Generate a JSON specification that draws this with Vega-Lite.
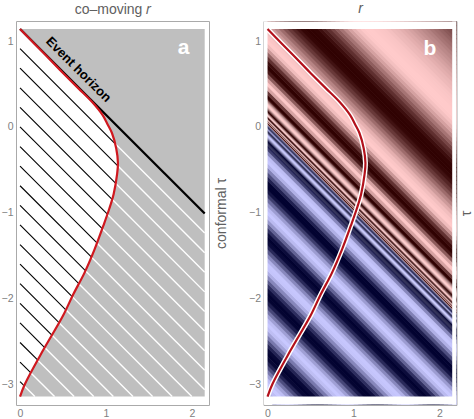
{
  "$schema": "https://vega.github.io/schema/vega-lite/v6.json",
  "padding": 0,
  "background": "white",
  "spacing": 18.5,
  "resolve": {"scale": {"x": "independent", "y": "independent", "color": "independent"}},
  "config": {
    "view": {"stroke": "#aaaaaa", "strokeWidth": 1},
    "font": "Liberation Sans",
    "axis": {
      "labelFont": "Liberation Sans", "labelFontSize": 10.5, "labelColor": "#808080",
      "titleFont": "Liberation Sans", "titleFontSize": 14, "titleFontWeight": "normal", "titleColor": "#606060",
      "grid": false, "domain": false, "ticks": false, "minExtent": 0
    }
  },
  "datasets": {
    "curve": [
      {"i": 0, "r": 0, "t": -3.1416},
      {"i": 1, "r": 0.06, "t": -2.99},
      {"i": 2, "r": 0.27, "t": -2.6},
      {"i": 3, "r": 0.5, "t": -2.2},
      {"i": 4, "r": 0.62, "t": -1.95},
      {"i": 5, "r": 0.75, "t": -1.7},
      {"i": 6, "r": 0.87, "t": -1.42},
      {"i": 7, "r": 0.97, "t": -1.15},
      {"i": 8, "r": 1.04, "t": -0.95},
      {"i": 9, "r": 1.09, "t": -0.78},
      {"i": 10, "r": 1.13, "t": -0.55},
      {"i": 11, "r": 1.14, "t": -0.42},
      {"i": 12, "r": 1.12, "t": -0.25},
      {"i": 13, "r": 1.07, "t": -0.07},
      {"i": 14, "r": 1.02, "t": 0.03},
      {"i": 15, "r": 0.96, "t": 0.14},
      {"i": 16, "r": 0.84, "t": 0.29},
      {"i": 17, "r": 0.68, "t": 0.45},
      {"i": 18, "r": 0.5, "t": 0.63},
      {"i": 19, "r": 0.3, "t": 0.835},
      {"i": 20, "r": 0, "t": 1.1416}
    ],
    "hatch": [
      {"s": "in", "r": 0, "t": 0.9133, "r2": 1.103, "t2": -0.19},
      {"s": "out", "r": 1.103, "t": -0.19, "r2": 2.15, "t2": -1.2367},
      {"s": "in", "r": 0, "t": 0.6849, "r2": 1.1375, "t2": -0.4526},
      {"s": "out", "r": 1.1375, "t": -0.4526, "r2": 2.15, "t2": -1.4651},
      {"s": "in", "r": 0, "t": 0.4566, "r2": 1.1117, "t2": -0.6551},
      {"s": "out", "r": 1.1117, "t": -0.6551, "r2": 2.15, "t2": -1.6934},
      {"s": "in", "r": 0, "t": 0.2283, "r2": 1.0714, "t2": -0.8431},
      {"s": "out", "r": 1.0714, "t": -0.8431, "r2": 2.15, "t2": -1.9217},
      {"s": "in", "r": 0, "t": 0, "r2": 1.0167, "t2": -1.0167},
      {"s": "out", "r": 1.0167, "t": -1.0167, "r2": 2.15, "t2": -2.15},
      {"s": "in", "r": 0, "t": -0.2283, "r2": 0.957, "t2": -1.1853},
      {"s": "out", "r": 0.957, "t": -1.1853, "r2": 2.15, "t2": -2.3783},
      {"s": "in", "r": 0, "t": -0.4566, "r2": 0.8952, "t2": -1.3518},
      {"s": "out", "r": 0.8952, "t": -1.3518, "r2": 2.15, "t2": -2.6066},
      {"s": "in", "r": 0, "t": -0.6849, "r2": 0.8295, "t2": -1.5144},
      {"s": "out", "r": 0.8295, "t": -1.5144, "r2": 2.15, "t2": -2.8349},
      {"s": "in", "r": 0, "t": -0.9133, "r2": 0.761, "t2": -1.6743},
      {"s": "out", "r": 0.761, "t": -1.6743, "r2": 2.15, "t2": -3.0633},
      {"s": "in", "r": 0, "t": -1.1416, "r2": 0.6845, "t2": -1.8261},
      {"s": "out", "r": 0.6845, "t": -1.8261, "r2": 2.0, "t2": -3.1416},
      {"s": "in", "r": 0, "t": -1.3699, "r2": 0.6071, "t2": -1.977},
      {"s": "out", "r": 0.6071, "t": -1.977, "r2": 1.7717, "t2": -3.1416},
      {"s": "in", "r": 0, "t": -1.5982, "r2": 0.533, "t2": -2.1312},
      {"s": "out", "r": 0.533, "t": -2.1312, "r2": 1.5434, "t2": -3.1416},
      {"s": "in", "r": 0, "t": -1.8266, "r2": 0.4538, "t2": -2.2804},
      {"s": "out", "r": 0.4538, "t": -2.2804, "r2": 1.315, "t2": -3.1416},
      {"s": "in", "r": 0, "t": -2.0549, "r2": 0.3704, "t2": -2.4253},
      {"s": "out", "r": 0.3704, "t": -2.4253, "r2": 1.0867, "t2": -3.1416},
      {"s": "in", "r": 0, "t": -2.2832, "r2": 0.2871, "t2": -2.5703},
      {"s": "out", "r": 0.2871, "t": -2.5703, "r2": 0.8584, "t2": -3.1416},
      {"s": "in", "r": 0, "t": -2.5115, "r2": 0.2065, "t2": -2.718},
      {"s": "out", "r": 0.2065, "t": -2.718, "r2": 0.6301, "t2": -3.1416},
      {"s": "in", "r": 0, "t": -2.7398, "r2": 0.1266, "t2": -2.8664},
      {"s": "out", "r": 0.1266, "t": -2.8664, "r2": 0.4018, "t2": -3.1416},
      {"s": "in", "r": 0, "t": -2.9682, "r2": 0.0492, "t2": -3.0174},
      {"s": "out", "r": 0.0492, "t": -3.0174, "r2": 0.1734, "t2": -3.1416}
    ],
    "stripes": [
      {"g": "b", "t": -3.15, "t2": -5.35, "v": -0.75},
      {"g": "b", "t": -3.1, "t2": -5.3, "v": -0.88},
      {"g": "b", "t": -3.05, "t2": -5.25, "v": -0.95},
      {"g": "b", "t": -3.0, "t2": -5.2, "v": -1},
      {"g": "b", "t": -2.95, "t2": -5.15, "v": -0.95},
      {"g": "b", "t": -2.9, "t2": -5.1, "v": -0.81},
      {"g": "b", "t": -2.85, "t2": -5.05, "v": -0.61},
      {"g": "b", "t": -2.8, "t2": -5.0, "v": -0.39},
      {"g": "b", "t": -2.75, "t2": -4.95, "v": -0.19},
      {"g": "b", "t": -2.7, "t2": -4.9, "v": -0.05},
      {"g": "b", "t": -2.65, "t2": -4.85, "v": -0.02},
      {"g": "b", "t": -2.6, "t2": -4.8, "v": -0.05},
      {"g": "b", "t": -2.55, "t2": -4.75, "v": -0.19},
      {"g": "b", "t": -2.5, "t2": -4.7, "v": -0.39},
      {"g": "b", "t": -2.45, "t2": -4.65, "v": -0.61},
      {"g": "b", "t": -2.4, "t2": -4.6, "v": -0.81},
      {"g": "b", "t": -2.35, "t2": -4.55, "v": -0.95},
      {"g": "b", "t": -2.3, "t2": -4.5, "v": -1},
      {"g": "b", "t": -2.25, "t2": -4.45, "v": -0.95},
      {"g": "b", "t": -2.2, "t2": -4.4, "v": -0.8},
      {"g": "b", "t": -2.15, "t2": -4.35, "v": -0.59},
      {"g": "b", "t": -2.1, "t2": -4.3, "v": -0.36},
      {"g": "b", "t": -2.05, "t2": -4.25, "v": -0.16},
      {"g": "b", "t": -2.0, "t2": -4.2, "v": -0.03},
      {"g": "b", "t": -1.95, "t2": -4.15, "v": -0.02},
      {"g": "b", "t": -1.9, "t2": -4.1, "v": -0.08},
      {"g": "b", "t": -1.85, "t2": -4.05, "v": -0.24},
      {"g": "b", "t": -1.8, "t2": -4.0, "v": -0.45},
      {"g": "b", "t": -1.75, "t2": -3.95, "v": -0.68},
      {"g": "b", "t": -1.7, "t2": -3.9, "v": -0.87},
      {"g": "b", "t": -1.65, "t2": -3.85, "v": -0.98},
      {"g": "b", "t": -1.6, "t2": -3.8, "v": -0.99},
      {"g": "b", "t": -1.55, "t2": -3.75, "v": -0.89},
      {"g": "b", "t": -1.5, "t2": -3.7, "v": -0.69},
      {"g": "b", "t": -1.45, "t2": -3.65, "v": -0.45},
      {"g": "b", "t": -1.4, "t2": -3.6, "v": -0.22},
      {"g": "b", "t": -1.35, "t2": -3.55, "v": -0.06},
      {"g": "b", "t": -1.3, "t2": -3.5, "v": -0.02},
      {"g": "b", "t": -1.25, "t2": -3.45, "v": -0.07},
      {"g": "b", "t": -1.2, "t2": -3.4, "v": -0.25},
      {"g": "b", "t": -1.15, "t2": -3.35, "v": -0.5},
      {"g": "b", "t": -1.1, "t2": -3.3, "v": -0.75},
      {"g": "b", "t": -1.05, "t2": -3.25, "v": -0.93},
      {"g": "b", "t": -1.0, "t2": -3.2, "v": -1},
      {"g": "b", "t": -0.95, "t2": -3.15, "v": -0.94},
      {"g": "b", "t": -0.9, "t2": -3.1, "v": -0.78},
      {"g": "b", "t": -0.85, "t2": -3.05, "v": -0.55},
      {"g": "b", "t": -0.8, "t2": -3.0, "v": -0.31},
      {"g": "b", "t": -0.75, "t2": -2.95, "v": -0.11},
      {"g": "b", "t": -0.7, "t2": -2.9, "v": -0.02},
      {"g": "b", "t": -0.65, "t2": -2.85, "v": -0.02},
      {"g": "b", "t": -0.6, "t2": -2.8, "v": -0.17},
      {"g": "b", "t": -0.55, "t2": -2.75, "v": -0.4},
      {"g": "b", "t": -0.5, "t2": -2.7, "v": -0.65},
      {"g": "b", "t": -0.45, "t2": -2.65, "v": -0.88},
      {"g": "b", "t": -0.4, "t2": -2.6, "v": -0.99},
      {"g": "b", "t": -0.35, "t2": -2.55, "v": -0.95},
      {"g": "b", "t": -0.3, "t2": -2.5, "v": -0.68},
      {"g": "b", "t": -0.25, "t2": -2.45, "v": -0.32},
      {"g": "f", "t": -0.24, "t2": -2.44, "v": -0.25},
      {"g": "f", "t": -0.23, "t2": -2.43, "v": -0.19},
      {"g": "f", "t": -0.22, "t2": -2.42, "v": -0.13},
      {"g": "f", "t": -0.21, "t2": -2.41, "v": -0.09},
      {"g": "f", "t": -0.2, "t2": -2.4, "v": -0.05},
      {"g": "f", "t": -0.19, "t2": -2.39, "v": -0.03},
      {"g": "f", "t": -0.18, "t2": -2.38, "v": -0.02},
      {"g": "f", "t": -0.17, "t2": -2.37, "v": -0.02},
      {"g": "f", "t": -0.16, "t2": -2.36, "v": -0.05},
      {"g": "f", "t": -0.15, "t2": -2.35, "v": -0.19},
      {"g": "f", "t": -0.14, "t2": -2.34, "v": -0.39},
      {"g": "f", "t": -0.13, "t2": -2.33, "v": -0.61},
      {"g": "f", "t": -0.12, "t2": -2.32, "v": -0.81},
      {"g": "f", "t": -0.11, "t2": -2.31, "v": -0.95},
      {"g": "f", "t": -0.1, "t2": -2.3, "v": -1},
      {"g": "f", "t": -0.09, "t2": -2.29, "v": -0.88},
      {"g": "f", "t": -0.08, "t2": -2.28, "v": -0.59},
      {"g": "f", "t": -0.07, "t2": -2.27, "v": -0.25},
      {"g": "f", "t": -0.06, "t2": -2.26, "v": -0.03},
      {"g": "f", "t": -0.05, "t2": -2.25, "v": -0.08},
      {"g": "f", "t": -0.04, "t2": -2.24, "v": -0.52},
      {"g": "f", "t": -0.03, "t2": -2.23, "v": -0.8},
      {"g": "f", "t": -0.02, "t2": -2.22, "v": -0.6},
      {"g": "f", "t": -0.01, "t2": -2.21, "v": -0.2},
      {"g": "f", "t": 0.0, "t2": -2.2, "v": -0.02},
      {"g": "f", "t": 0.01, "t2": -2.19, "v": -0.25},
      {"g": "f", "t": 0.02, "t2": -2.18, "v": -0.5},
      {"g": "f", "t": 0.03, "t2": -2.17, "v": 0.5},
      {"g": "f", "t": 0.04, "t2": -2.16, "v": 0.03},
      {"g": "f", "t": 0.05, "t2": -2.15, "v": 0.75},
      {"g": "f", "t": 0.06, "t2": -2.14, "v": 0.43},
      {"g": "f", "t": 0.07, "t2": -2.13, "v": 0.25},
      {"g": "f", "t": 0.08, "t2": -2.12, "v": 1},
      {"g": "f", "t": 0.09, "t2": -2.11, "v": 0.57},
      {"g": "f", "t": 0.1, "t2": -2.1, "v": 0.02},
      {"g": "f", "t": 0.11, "t2": -2.09, "v": 0.14},
      {"g": "f", "t": 0.12, "t2": -2.08, "v": 0.57},
      {"g": "f", "t": 0.13, "t2": -2.07, "v": 0.94},
      {"g": "f", "t": 0.14, "t2": -2.06, "v": 0.97},
      {"g": "f", "t": 0.15, "t2": -2.05, "v": 0.75},
      {"g": "f", "t": 0.16, "t2": -2.04, "v": 0.41},
      {"g": "f", "t": 0.17, "t2": -2.03, "v": 0.12},
      {"g": "f", "t": 0.18, "t2": -2.02, "v": 0.02},
      {"g": "f", "t": 0.19, "t2": -2.01, "v": 0.05},
      {"g": "f", "t": 0.2, "t2": -2.0, "v": 0.19},
      {"g": "f", "t": 0.21, "t2": -1.99, "v": 0.39},
      {"g": "f", "t": 0.22, "t2": -1.98, "v": 0.61},
      {"g": "f", "t": 0.23, "t2": -1.97, "v": 0.81},
      {"g": "f", "t": 0.24, "t2": -1.96, "v": 0.95},
      {"g": "f", "t": 0.25, "t2": -1.95, "v": 1},
      {"g": "f", "t": 0.26, "t2": -1.94, "v": 0.98},
      {"g": "f", "t": 0.27, "t2": -1.93, "v": 0.9},
      {"g": "f", "t": 0.28, "t2": -1.92, "v": 0.79},
      {"g": "f", "t": 0.29, "t2": -1.91, "v": 0.65},
      {"g": "f", "t": 0.3, "t2": -1.9, "v": 0.5},
      {"g": "f", "t": 0.31, "t2": -1.89, "v": 0.35},
      {"g": "f", "t": 0.32, "t2": -1.88, "v": 0.21},
      {"g": "f", "t": 0.33, "t2": -1.87, "v": 0.1},
      {"g": "f", "t": 0.34, "t2": -1.86, "v": 0.02},
      {"g": "b", "t": 0.35, "t2": -1.85, "v": 0.02},
      {"g": "b", "t": 0.4, "t2": -1.8, "v": 0.28},
      {"g": "b", "t": 0.45, "t2": -1.75, "v": 0.81},
      {"g": "b", "t": 0.5, "t2": -1.7, "v": 0.99},
      {"g": "b", "t": 0.55, "t2": -1.65, "v": 0.81},
      {"g": "b", "t": 0.6, "t2": -1.6, "v": 0.46},
      {"g": "b", "t": 0.65, "t2": -1.55, "v": 0.13},
      {"g": "b", "t": 0.7, "t2": -1.5, "v": 0.02},
      {"g": "b", "t": 0.75, "t2": -1.45, "v": 0.07},
      {"g": "b", "t": 0.8, "t2": -1.4, "v": 0.25},
      {"g": "b", "t": 0.85, "t2": -1.35, "v": 0.5},
      {"g": "b", "t": 0.9, "t2": -1.3, "v": 0.75},
      {"g": "b", "t": 0.95, "t2": -1.25, "v": 0.93},
      {"g": "b", "t": 1.0, "t2": -1.2, "v": 1},
      {"g": "b", "t": 1.05, "t2": -1.15, "v": 0.98},
      {"g": "b", "t": 1.1, "t2": -1.1, "v": 0.94},
      {"g": "b", "t": 1.15, "t2": -1.05, "v": 0.87},
      {"g": "b", "t": 1.2, "t2": -1.0, "v": 0.77},
      {"g": "b", "t": 1.25, "t2": -0.95, "v": 0.66},
      {"g": "b", "t": 1.3, "t2": -0.9, "v": 0.54},
      {"g": "b", "t": 1.35, "t2": -0.85, "v": 0.41},
      {"g": "b", "t": 1.4, "t2": -0.8, "v": 0.29},
      {"g": "b", "t": 1.45, "t2": -0.75, "v": 0.19},
      {"g": "b", "t": 1.5, "t2": -0.7, "v": 0.1},
      {"g": "b", "t": 1.55, "t2": -0.65, "v": 0.04},
      {"g": "b", "t": 1.6, "t2": -0.6, "v": 0.02},
      {"g": "b", "t": 1.65, "t2": -0.55, "v": 0.02},
      {"g": "b", "t": 1.7, "t2": -0.5, "v": 0.03},
      {"g": "b", "t": 1.75, "t2": -0.45, "v": 0.08},
      {"g": "b", "t": 1.8, "t2": -0.4, "v": 0.15},
      {"g": "b", "t": 1.85, "t2": -0.35, "v": 0.24},
      {"g": "b", "t": 1.9, "t2": -0.3, "v": 0.35},
      {"g": "b", "t": 1.95, "t2": -0.25, "v": 0.47},
      {"g": "b", "t": 2.0, "t2": -0.2, "v": 0.58},
      {"g": "b", "t": 2.05, "t2": -0.15, "v": 0.69},
      {"g": "b", "t": 2.1, "t2": -0.1, "v": 0.8},
      {"g": "b", "t": 2.15, "t2": -0.05, "v": 0.88},
      {"g": "b", "t": 2.2, "t2": 0.0, "v": 0.95},
      {"g": "b", "t": 2.25, "t2": 0.05, "v": 0.99},
      {"g": "b", "t": 2.3, "t2": 0.1, "v": 1},
      {"g": "b", "t": 2.35, "t2": 0.15, "v": 1},
      {"g": "b", "t": 2.4, "t2": 0.2, "v": 0.99},
      {"g": "b", "t": 2.45, "t2": 0.25, "v": 0.98},
      {"g": "b", "t": 2.5, "t2": 0.3, "v": 0.97},
      {"g": "b", "t": 2.55, "t2": 0.35, "v": 0.95},
      {"g": "b", "t": 2.6, "t2": 0.4, "v": 0.92},
      {"g": "b", "t": 2.65, "t2": 0.45, "v": 0.9},
      {"g": "b", "t": 2.7, "t2": 0.5, "v": 0.87},
      {"g": "b", "t": 2.75, "t2": 0.55, "v": 0.84},
      {"g": "b", "t": 2.8, "t2": 0.6, "v": 0.8},
      {"g": "b", "t": 2.85, "t2": 0.65, "v": 0.76},
      {"g": "b", "t": 2.9, "t2": 0.7, "v": 0.72},
      {"g": "b", "t": 2.95, "t2": 0.75, "v": 0.68},
      {"g": "b", "t": 3.0, "t2": 0.8, "v": 0.64},
      {"g": "b", "t": 3.05, "t2": 0.85, "v": 0.59},
      {"g": "b", "t": 3.1, "t2": 0.9, "v": 0.55},
      {"g": "b", "t": 3.15, "t2": 0.95, "v": 0.5},
      {"g": "b", "t": 3.2, "t2": 1.0, "v": 0.45},
      {"g": "b", "t": 3.25, "t2": 1.05, "v": 0.41},
      {"g": "b", "t": 3.3, "t2": 1.1, "v": 0.36},
      {"g": "b", "t": 3.35, "t2": 1.15, "v": 0.32},
      {"g": "b", "t": 3.4, "t2": 1.2, "v": 0.28}
    ]
  },
  "hconcat": [
    {
      "width": 193,
      "height": 384,
      "layer": [
        {
          "data": {"name": "curve"},
          "mark": {"type": "area", "orient": "horizontal", "interpolate": "catmull-rom", "color": "#bfbfbf"},
          "encoding": {
            "x": {"field": "r", "type": "quantitative", "scale": {"domain": [-0.047, 2.2], "nice": false, "zero": false},
                  "axis": {"orient": "bottom", "values": [0, 1, 2], "labelPadding": 3, "title": null}},
            "x2": {"datum": 2.15},
            "y": {"field": "t", "type": "quantitative", "scale": {"domain": [-3.24, 1.235], "nice": false, "zero": false},
                  "axis": {"orient": "left", "values": [-3, -2, -1, 0, 1], "labelPadding": 3, "title": null}}
          }
        },
        {
          "data": {"name": "hatch"},
          "transform": [{"filter": "datum.s === 'in'"}],
          "mark": {"type": "rule", "color": "black", "strokeWidth": 1.1},
          "encoding": {
            "x": {"field": "r", "type": "quantitative", "axis": null},
            "y": {"field": "t", "type": "quantitative", "axis": null},
            "x2": {"field": "r2"}, "y2": {"field": "t2"}
          }
        },
        {
          "data": {"name": "hatch"},
          "transform": [{"filter": "datum.s === 'out'"}],
          "mark": {"type": "rule", "color": "white", "strokeWidth": 1.4},
          "encoding": {
            "x": {"field": "r", "type": "quantitative", "axis": null},
            "y": {"field": "t", "type": "quantitative", "axis": null},
            "x2": {"field": "r2"}, "y2": {"field": "t2"}
          }
        },
        {
          "data": {"values": [{"r": 0, "t": 1.1416, "r2": 2.15, "t2": -1.0084}]},
          "mark": {"type": "rule", "color": "black", "strokeWidth": 2.3},
          "encoding": {
            "x": {"field": "r", "type": "quantitative", "axis": null},
            "y": {"field": "t", "type": "quantitative", "axis": null},
            "x2": {"field": "r2"}, "y2": {"field": "t2"}
          }
        },
        {
          "data": {"name": "curve"},
          "mark": {"type": "line", "interpolate": "catmull-rom", "color": "#d0181f", "strokeWidth": 2.2},
          "encoding": {
            "x": {"field": "r", "type": "quantitative", "axis": null},
            "y": {"field": "t", "type": "quantitative", "axis": null},
            "order": {"field": "i"}
          }
        },
        {
          "data": {"values": [{"r": 0.68, "t": 0.668, "txt": "Event horizon"}]},
          "mark": {"type": "text", "angle": 45, "fontWeight": "bold", "fontSize": 13, "color": "black", "align": "center", "baseline": "middle"},
          "encoding": {
            "x": {"field": "r", "type": "quantitative", "axis": null},
            "y": {"field": "t", "type": "quantitative", "axis": null},
            "text": {"field": "txt"}
          }
        },
        {
          "data": {"values": [{"r": 1.905, "t": 0.856, "txt": "a"}]},
          "mark": {"type": "text", "fontWeight": "bold", "fontSize": 21, "color": "white", "align": "center", "baseline": "alphabetic"},
          "encoding": {
            "x": {"field": "r", "type": "quantitative",
                  "axis": {"orient": "top", "labels": false, "title": "co–moving 𝑟", "titlePadding": 5}},
            "y": {"field": "t", "type": "quantitative",
                  "axis": {"orient": "right", "labels": false, "title": "conformal τ", "titleAngle": 270, "titleBaseline": "top", "titlePadding": 5.5}},
            "text": {"field": "txt"}
          }
        }
      ]
    },
    {
      "width": 193,
      "height": 384,
      "layer": [
        {
          "data": {"name": "stripes"},
          "transform": [{"filter": "datum.g === 'b'"}],
          "mark": {"type": "rule", "strokeWidth": 3.6, "strokeCap": "square", "clip": true},
          "encoding": {
            "x": {"datum": 0, "axis": null},
            "x2": {"datum": 2.2},
            "y": {"field": "t", "type": "quantitative", "axis": null},
            "y2": {"field": "t2"},
            "color": {"field": "v", "type": "quantitative", "legend": null,
                      "scale": {"domain": [-1, -0.01, 0.01, 1], "range": ["#c8c8ff", "#00002e", "#2e0000", "#ffcaca"], "interpolate": "rgb"}}
          }
        },
        {
          "data": {"name": "stripes"},
          "transform": [{"filter": "datum.g === 'f'"}],
          "mark": {"type": "rule", "strokeWidth": 1.0, "strokeCap": "square", "clip": true},
          "encoding": {
            "x": {"datum": 0, "axis": null},
            "x2": {"datum": 2.2},
            "y": {"field": "t", "type": "quantitative", "axis": null},
            "y2": {"field": "t2"},
            "color": {"field": "v", "type": "quantitative", "legend": null,
                      "scale": {"domain": [-1, -0.01, 0.01, 1], "range": ["#c8c8ff", "#00002e", "#2e0000", "#ffcaca"], "interpolate": "rgb"}}
          }
        },
        {
          "data": {"values": [
            {"r": -0.041, "r2": 0, "t": -3.234, "t2": 1.229},
            {"r": 2.15, "r2": 2.194, "t": -3.234, "t2": 1.229},
            {"r": -0.041, "r2": 2.194, "t": 1.1416, "t2": 1.229},
            {"r": -0.041, "r2": 2.194, "t": -3.234, "t2": -3.1416}
          ]},
          "mark": {"type": "rect", "color": "white", "clip": true},
          "encoding": {
            "x": {"field": "r", "type": "quantitative", "axis": null},
            "x2": {"field": "r2"},
            "y": {"field": "t", "type": "quantitative", "axis": null},
            "y2": {"field": "t2"}
          }
        },
        {
          "data": {"name": "curve"},
          "mark": {"type": "line", "interpolate": "catmull-rom", "color": "white", "strokeWidth": 5},
          "encoding": {
            "x": {"field": "r", "type": "quantitative", "scale": {"domain": [-0.047, 2.2], "nice": false, "zero": false},
                  "axis": {"orient": "bottom", "values": [0, 1, 2], "labelPadding": 3, "title": null}},
            "y": {"field": "t", "type": "quantitative", "scale": {"domain": [-3.24, 1.235], "nice": false, "zero": false},
                  "axis": {"orient": "left", "values": [-3, -2, -1, 0, 1], "labelPadding": 3, "title": null}},
            "order": {"field": "i"}
          }
        },
        {
          "data": {"name": "curve"},
          "mark": {"type": "line", "interpolate": "catmull-rom", "color": "#b3111b", "strokeWidth": 2.2},
          "encoding": {
            "x": {"field": "r", "type": "quantitative", "axis": null},
            "y": {"field": "t", "type": "quantitative", "axis": null},
            "order": {"field": "i"}
          }
        },
        {
          "data": {"values": [{"r": 1.89, "t": 0.837, "txt": "b"}]},
          "mark": {"type": "text", "fontWeight": "bold", "fontSize": 21, "color": "white", "align": "center", "baseline": "alphabetic"},
          "encoding": {
            "x": {"field": "r", "type": "quantitative",
                  "axis": {"orient": "top", "labels": false, "title": "r", "titleFontStyle": "italic", "titlePadding": 6}},
            "y": {"field": "t", "type": "quantitative",
                  "axis": {"orient": "right", "labels": false, "title": "τ", "titleAngle": 270, "titleBaseline": "top", "titlePadding": 3}},
            "text": {"field": "txt"}
          }
        }
      ]
    }
  ]
}
